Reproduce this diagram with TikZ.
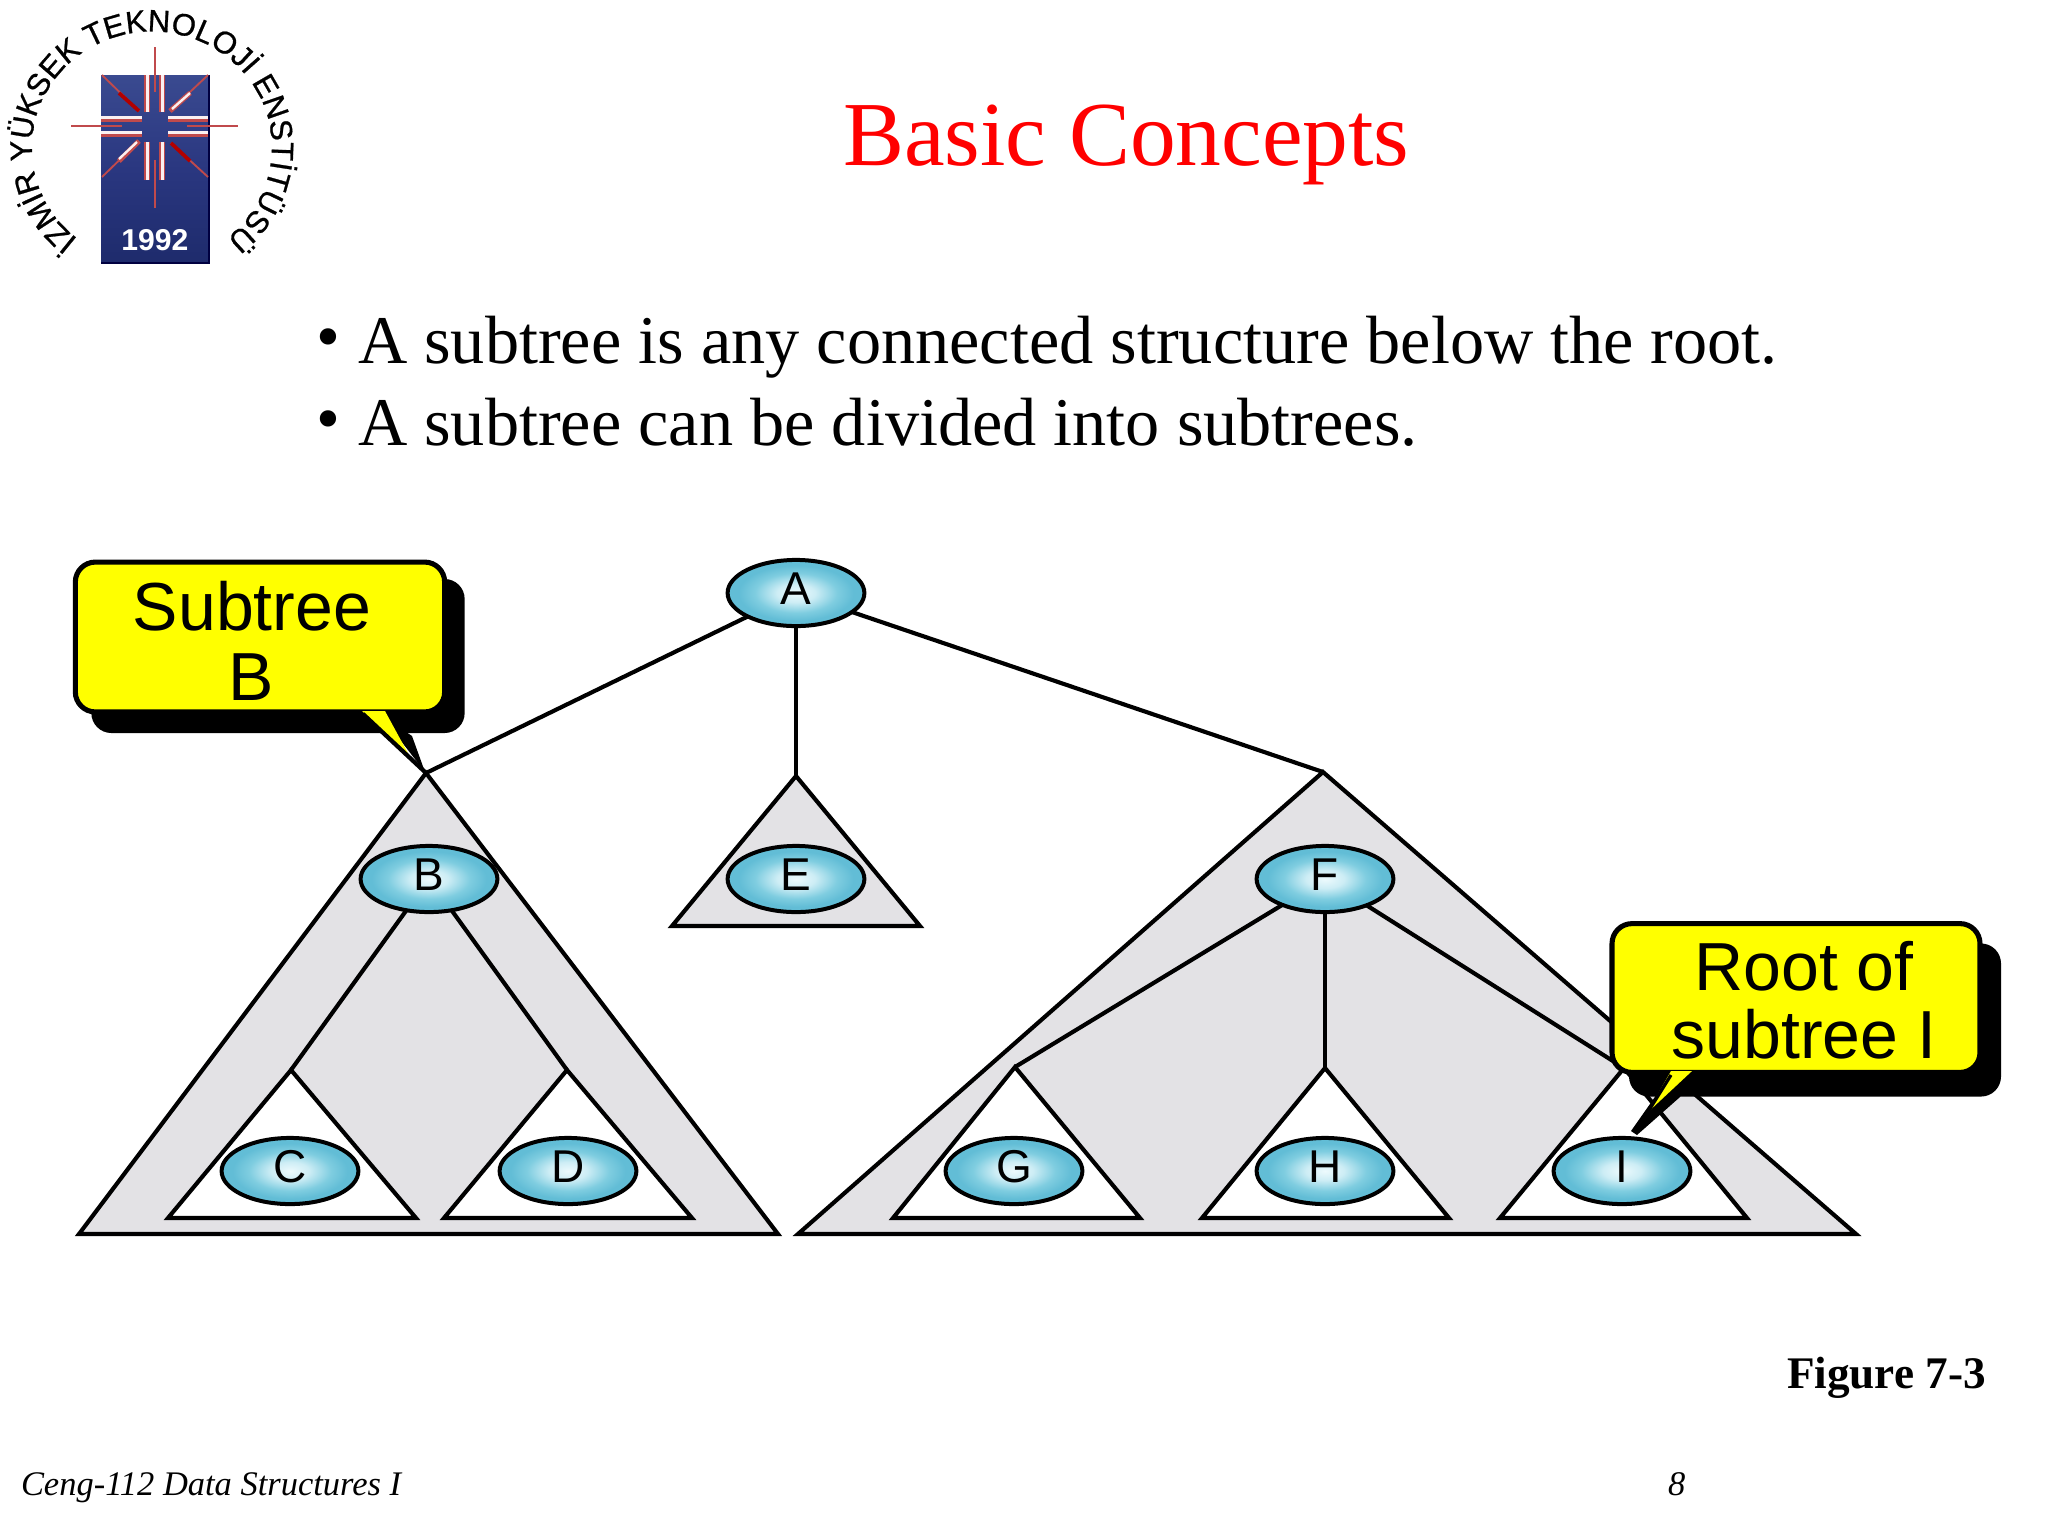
\documentclass[tikz,border=0pt]{standalone}
\usepackage{fontspec}
\setmainfont{Liberation Serif}
\newfontfamily\arialfont{Liberation Sans}
\newfontfamily\logofont[FakeBold=0.8]{Liberation Sans}
\usetikzlibrary{shapes.geometric,decorations.text}
\definecolor{treegrey}{HTML}{E3E2E5}
\definecolor{callyellow}{HTML}{FFFF00}
\definecolor{logored}{HTML}{C04A4C}
\definecolor{logotop}{HTML}{3A4A90}
\definecolor{logomid}{HTML}{2A3780}
\definecolor{logobot}{HTML}{1E2B6C}
\definecolor{ballc}{HTML}{EDFAFD}
\definecolor{ballb}{HTML}{CDEDF5}
\definecolor{balla}{HTML}{7FCDE0}
\definecolor{balld}{HTML}{62BDD6}
\pgfdeclareradialshading{ballshade}{\pgfpoint{0bp}{0bp}}{%
  color(0bp)=(ballc);color(7bp)=(ballb);color(15bp)=(balla);color(21bp)=(balld);color(25bp)=(balld);color(50bp)=(balld)}
\tikzset{
  tree line/.style={line width=1.55pt,line join=miter},
  outer tri/.style={tree line,fill=treegrey},
  inner tri/.style={tree line,fill=white},
  treenode/.style={ellipse,draw=black,line width=1.5pt,shading=ballshade,minimum width=51.3pt,minimum height=24.8pt,inner sep=0pt,outer sep=0pt,font=\arialfont\fontsize{17.25}{20}\selectfont,text height=12.4pt,text depth=4pt},
  callout/.style={rectangle,rounded corners=7.5pt,draw=black,line width=1.9pt,fill=callyellow,inner sep=0pt},
  calltext/.style={inner sep=0pt,align=center,font=\arialfont\fontsize{25.5}{27}\selectfont},
  callshadow/.style={rectangle,rounded corners=7.5pt,fill=black,inner sep=0pt},
  slide text/.style={anchor=base west,inner sep=0pt,outer sep=0pt},
  logo bar/.style={line width=1.9pt,logored,line cap=butt},
  logo core/.style={line width=.9pt,white!92!logored,line cap=butt},
  logo thin/.style={line width=.7pt,logored},
  logo heavy/.style={line width=1.4pt,red!70!black},
  logo ray/.style={line width=.8pt,logored},
}
\begin{document}
\begin{tikzpicture}[x=0.375pt,y=-0.375pt]
\useasboundingbox (0,0) rectangle (2048,1536);
\fill[white] (0,0) rectangle (2048,1536);

% ---- logo ----
\path[decorate,decoration={text along path,text align={fit to path},
  text={|\logofont\fontsize{11.6}{12}\selectfont|İZMİR YÜKSEK TEKNOLOJİ ENSTİTÜSÜ}}]
  (78,239) arc[start angle=232,end angle=-50,x radius=45pt,y radius=43.5pt];
\shade[top color=logotop,bottom color=logobot,middle color=logomid] (101,75) rectangle (209,263);
\draw[line width=.7pt,black!75!blue] (209,75) -- (209,263) -- (101,263);
% horizontal bars
\foreach \yy in {119,134}{
  \draw[logo bar] (101,\yy) -- (142,\yy);
  \draw[logo bar] (168,\yy) -- (208,\yy);
  \draw[logo core] (101,\yy-1.5) -- (142,\yy-1.5);
  \draw[logo core] (168,\yy-1.5) -- (208,\yy-1.5);
}
% vertical bars
\foreach \xx in {147,162}{
  \draw[logo bar] (\xx,75) -- (\xx,112);
  \draw[logo bar] (\xx,142) -- (\xx,180);
  \draw[logo core] (\xx+.5,75) -- (\xx+.5,112);
  \draw[logo core] (\xx+.5,142) -- (\xx+.5,180);
}
% diagonal bars
\draw[logo thin] (102,75) -- (139,111);
\draw[logo heavy] (119,93) -- (139,111);
\draw[logo thin] (208,75) -- (170,111);
\draw[logo bar] (190,93) -- (170,111);
\draw[logo core] (190,93) -- (172,109);
\draw[logo thin] (102,177) -- (139,141);
\draw[logo bar] (119,161) -- (139,141);
\draw[logo core] (119,159) -- (137,142);
\draw[logo thin] (208,177) -- (171,143);
\draw[logo heavy] (171,143) -- (190,161);
% long rays
\draw[logo ray] (155,47) -- (155,92);
\draw[logo ray] (155,160) -- (155,208);
\draw[logo ray] (71,126) -- (122,126);
\draw[logo ray] (187,126) -- (238,126);
\node[anchor=base,inner sep=0pt,text=white,font=\arialfont\bfseries\fontsize{11.3}{12}\selectfont] (year) at (155,250) {1992};

% ---- texts ----
\node[slide text,text=red,font=\fontsize{34.3}{36}\selectfont] (title) at (843,165) {Basic Concepts};
\node[slide text,font=\fontsize{25.6}{28}\selectfont] (bulletone) at (316,359) {•};
\node[slide text,font=\fontsize{25.6}{28}\selectfont] (lineone) at (358,363) {A subtree is any connected structure below the root.};
\node[slide text,font=\fontsize{25.6}{28}\selectfont] (bullettwo) at (316,441) {•};
\node[slide text,font=\fontsize{25.6}{28}\selectfont] (linetwo) at (358,445) {A subtree can be divided into subtrees.};
\node[slide text,font=\bfseries\fontsize{16.95}{18}\selectfont] (figlabel) at (1787,1388) {Figure 7-3};
\node[slide text,font=\itshape\fontsize{12.93}{14}\selectfont] (footer) at (21,1495) {Ceng-112 Data Structures I};
\node[slide text,font=\itshape\fontsize{12.93}{14}\selectfont] (pageno) at (1668,1495) {8};

% ---- tree: triangles ----
\coordinate (tB) at (426,773);
\coordinate (tE) at (796,776);
\coordinate (tF) at (1323,772);
\coordinate (tC) at (291,1070);
\coordinate (tD) at (567,1070);
\coordinate (tG) at (1015,1067);
\coordinate (tH) at (1325,1068);
\coordinate (tI) at (1624,1068);

\draw[outer tri] (tB) -- (778,1234) -- (79,1234) -- cycle;
\draw[outer tri] (tE) -- (920,926) -- (672,926) -- cycle;
\draw[outer tri] (tF) -- (1856,1234) -- (798,1234) -- cycle;
\draw[inner tri] (tC) -- (416,1218) -- (168,1218) -- cycle;
\draw[inner tri] (tD) -- (692,1218) -- (444,1218) -- cycle;
\draw[inner tri] (tG) -- (1140,1218) -- (893,1218) -- cycle;
\draw[inner tri] (tH) -- (1449,1218) -- (1202,1218) -- cycle;
\draw[inner tri] (tI) -- (1747,1218) -- (1500,1218) -- cycle;

% ---- tree: nodes ----
\node[treenode] (A) at (796,593) {A};
\node[treenode] (B) at (429,879) {B};
\node[treenode] (E) at (796,879) {E};
\node[treenode] (F) at (1325,879) {F};
\node[treenode] (C) at (290,1171) {C};
\node[treenode] (D) at (568,1171) {D};
\node[treenode] (G) at (1014,1171) {G};
\node[treenode] (H) at (1325,1171) {H};
\node[treenode] (I) at (1622,1171) {I};

% ---- tree: connectors ----
\draw[tree line] (A) -- (tB);
\draw[tree line] (A) -- (tE);
\draw[tree line] (A) -- (tF);
\draw[tree line] (B) -- (tC);
\draw[tree line] (B) -- (tD);
\draw[tree line] (F) -- (tG);
\draw[tree line] (F) -- (tH);
\draw[tree line] (F) -- (tI);

% ---- callout: Subtree B ----
\node[callshadow,minimum width=140pt,minimum height=57.75pt] (sbshadow) at (278,656) {};
\fill[black] (380,714) -- (412,736) -- (425,772) -- cycle;
\node[callout,minimum width=138.5pt,minimum height=56.2pt] (sb) at (260,637) {};
\fill[callyellow] (362,711) -- (385,711) -- (410,757) -- cycle;
\draw[line width=1.6pt] (363,714) -- (425,772);
\node[calltext,anchor=base] (sbone) at (252,630) {Subtree};
\node[calltext,anchor=base] (sbtwo) at (251,700) {B};

% ---- callout: Root of subtree I ----
\node[callshadow,minimum width=139.5pt,minimum height=57.4pt] (rsshadow) at (1815,1020) {};
\fill[black] (1671,1074) -- (1692,1074) -- (1680,1097) -- (1637,1135) -- (1631,1131) -- cycle;
\node[callout,minimum width=138pt,minimum height=55.8pt] (rs) at (1796,998) {};
\fill[callyellow] (1671,1071) -- (1692,1071) -- (1647,1113) -- cycle;
\draw[line width=1.2pt] (1671,1075) -- (1636,1131);
\node[calltext,anchor=base] (rsone) at (1804,990) {Root of};
\node[calltext,anchor=base] (rstwo) at (1804,1058) {subtree I};
\end{tikzpicture}
\end{document}
